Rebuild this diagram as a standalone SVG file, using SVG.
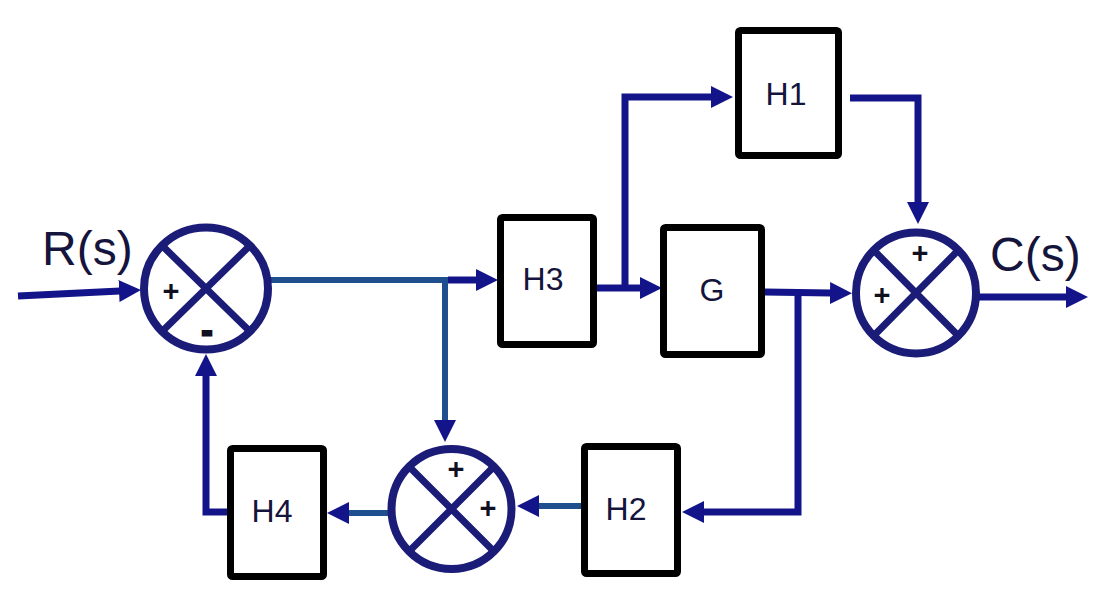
<svg xmlns="http://www.w3.org/2000/svg" width="1103" height="597" viewBox="0 0 1103 597">
<style>
.box{fill:#fff;stroke:#000;stroke-width:7;stroke-linejoin:round}
.sj{fill:#fff;stroke:#1b1b78;stroke-width:8}
.x{stroke:#1b1b78;stroke-width:7;fill:none}
.w{fill:none;stroke:#14148a;stroke-width:7;stroke-linejoin:miter}
.ws{fill:none;stroke:#1f4f8f;stroke-width:6;stroke-linejoin:miter}
.lbl{font-family:"Liberation Sans",Arial,sans-serif;font-size:32px;fill:#14143c;text-anchor:middle}
.big{font-family:"Liberation Sans",Arial,sans-serif;font-size:48px;fill:#14143c}
.sg{font-family:"Liberation Sans",Arial,sans-serif;font-size:29px;font-weight:bold;fill:#101020;text-anchor:middle}
</style>
<defs>
<marker id="ah" viewBox="0 0 22 22" markerWidth="22" markerHeight="22" refX="1" refY="11" markerUnits="userSpaceOnUse" orient="auto">
<path d="M0,0 L22,11 L0,22 z" fill="#14148a"/>
</marker>
</defs>

<g id="connectors">
<path class="w" d="M18,296 L120,291" marker-end="url(#ah)"/>
<path class="ws" d="M268,280 L450,280"/>
<path class="w" d="M448,280 L477,280" marker-end="url(#ah)"/>
<path class="ws" d="M445,280 L445,421" marker-end="url(#ah)"/>
<path class="w" d="M597,288 L641,288" marker-end="url(#ah)"/>
<path class="w" d="M625,289 L625,97 L712,97" marker-end="url(#ah)"/>
<path class="w" d="M850,98 L918,98 L918,203" marker-end="url(#ah)"/>
<path class="w" d="M765,292 L831,293" marker-end="url(#ah)"/>
<path class="w" d="M798,292 L798,512 L703,512" marker-end="url(#ah)"/>
<path class="w" d="M978,297 L1067,297" marker-end="url(#ah)"/>
<path class="ws" d="M581,506 L538,506" marker-end="url(#ah)"/>
<path class="ws" d="M390,513 L348,513" marker-end="url(#ah)"/>
<path class="w" d="M228,512 L206,512 L206,375" marker-end="url(#ah)"/>
</g>

<g id="sj1">
<ellipse class="sj" cx="206" cy="288.5" rx="62" ry="61"/>
<path class="x" d="M162,245.5 L250,331.5 M250,245.5 L162,331.5"/>
<text class="sg" x="171" y="301">+</text>
<text class="sg" x="207" y="341" style="font-size:30px;stroke:#101020;stroke-width:3">-</text>
</g>

<g id="sj2">
<ellipse class="sj" cx="916" cy="293" rx="60" ry="60.5"/>
<path class="x" d="M873.5,250 L958.5,336 M958.5,250 L873.5,336"/>
<text class="sg" x="920" y="263">+</text>
<text class="sg" x="882" y="305">+</text>
</g>

<g id="sj3">
<ellipse class="sj" cx="451.5" cy="509" rx="60" ry="60"/>
<path class="x" d="M409,466.5 L494,551.5 M494,466.5 L409,551.5"/>
<text class="sg" x="456" y="479">+</text>
<text class="sg" x="488" y="518">+</text>
</g>

<g id="H3">
<rect class="box" x="500.5" y="217.5" width="93" height="127" rx="2"/>
<text class="lbl" x="543" y="290">H3</text>
</g>
<g id="G">
<rect class="box" x="663.5" y="227.5" width="98" height="127" rx="2"/>
<text class="lbl" x="712" y="301">G</text>
</g>
<g id="H1">
<rect class="box" x="738.5" y="30.5" width="100" height="125" rx="2"/>
<text class="lbl" x="786" y="105">H1</text>
</g>
<g id="H2">
<rect class="box" x="584.5" y="446.5" width="93" height="127" rx="2"/>
<text class="lbl" x="626" y="520">H2</text>
</g>
<g id="H4">
<rect class="box" x="230.5" y="448.5" width="93" height="128" rx="2"/>
<text class="lbl" x="272" y="522">H4</text>
</g>

<g id="labels">
<text class="big" x="42" y="265">R(s)</text>
<text class="big" x="990" y="271">C(s)</text>
</g>
</svg>
